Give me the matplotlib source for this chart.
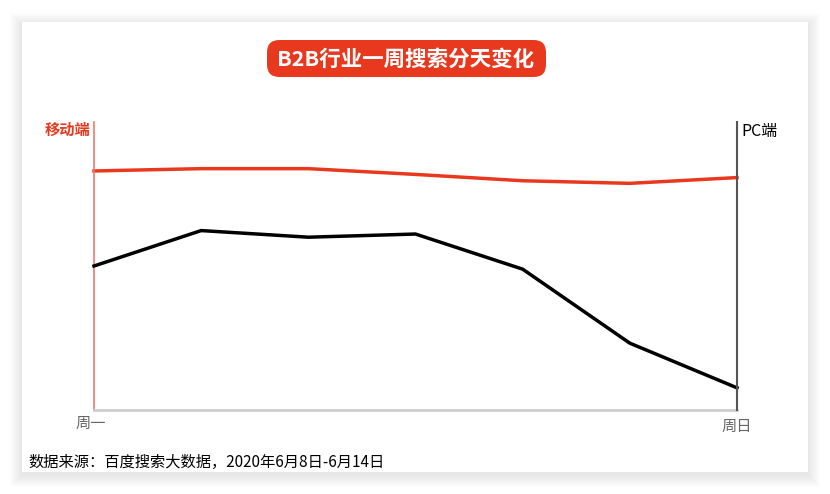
import matplotlib.pyplot as plt
from matplotlib.patches import FancyBboxPatch, Rectangle
import numpy as np

plt.rcParams['font.family'] = ['Noto Sans CJK SC', 'DejaVu Sans']

W, H = 830, 494

days = ["周一", "周二", "周三", "周四", "周五", "周六", "周日"]
mobile = [83.0, 83.8, 83.8, 81.8, 79.6, 78.7, 80.7]
pc = [50.0, 62.3, 60.0, 61.1, 48.9, 23.2, 7.7]

title = "B2B行业一周搜索分天变化"
source = "数据来源：百度搜索大数据，2020年6月8日-6月14日"

RED = "#e8391f"


def fx(px):
    return px / W


def fy(py):
    return 1 - py / H


fig = plt.figure(figsize=(W / 100, H / 100), dpi=100)
fig.patch.set_facecolor("white")

# card shadow + card
for k in range(12, 0, -1):
    fig.patches.append(Rectangle((fx(22 - k), fy(472 + k + 3)), (786 + 2 * k) / W, (450 + 2 * k) / H,
                                 transform=fig.transFigure, facecolor="black",
                                 alpha=0.006, edgecolor="none", zorder=0))
fig.patches.append(Rectangle((fx(22), fy(472)), 786 / W, 450 / H, transform=fig.transFigure,
                             facecolor="white", edgecolor="none", zorder=1))

# title box
fig.patches.append(FancyBboxPatch((fx(267), fy(77)), 279 / W, 37 / H,
                                  boxstyle="round,pad=0,rounding_size=0.015",
                                  transform=fig.transFigure, facecolor=RED,
                                  edgecolor="none", zorder=2, mutation_aspect=W / H))
fig.text(fx(406), fy(59), title, color="white", fontsize=15.5, fontweight="bold",
         ha="center", va="center", zorder=3)

ax = fig.add_axes([fx(94), fy(410), 643 / W, 288 / H], zorder=5)
ax.patch.set_alpha(0)
ax2 = ax.twinx()

x = np.arange(len(days))
ax.plot(x, mobile, color=RED, lw=2.5, solid_joinstyle="miter", clip_on=False)
ax2.plot(x, pc, color="black", lw=2.5, solid_joinstyle="miter", clip_on=False)

for a in (ax, ax2):
    a.set_xlim(0, len(days) - 1)
    a.set_ylim(0, 100)
    a.set_xticks([])
    a.set_yticks([])
    for s in a.spines.values():
        s.set_visible(False)

ax.spines["left"].set_visible(True)
ax.spines["left"].set_color("#f0786a")
ax.spines["left"].set_linewidth(1.2)
ax.spines["bottom"].set_visible(True)
ax.spines["bottom"].set_color("#cccccc")
ax.spines["bottom"].set_linewidth(2)
ax2.spines["right"].set_visible(True)
ax2.spines["right"].set_color("#555555")
ax2.spines["right"].set_linewidth(1.5)

fig.text(fx(90), fy(130), "移动端", color=RED, fontsize=11, fontweight="bold",
         ha="right", va="center")
fig.text(fx(741), fy(131), "PC端", color="black", fontsize=11.5, fontweight="medium",
         ha="left", va="center")
fig.text(fx(91), fy(423), days[0], color="#666666", fontsize=11, fontweight="medium",
         ha="center", va="center")
fig.text(fx(737), fy(426), days[-1], color="#666666", fontsize=11, fontweight="medium",
         ha="center", va="center")
fig.text(fx(28), fy(462), source, color="black", fontsize=11,
         ha="left", va="center")

fig.savefig("out.png", dpi=100)
